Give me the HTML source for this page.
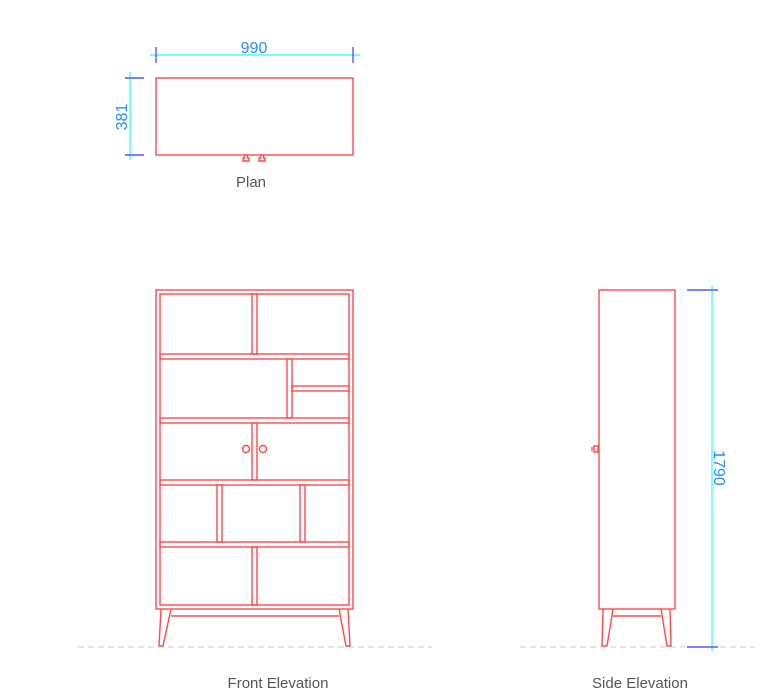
<!DOCTYPE html>
<html><head><style>body{margin:0;background:#fff}svg{display:block}</style></head><body>
<svg width="763" height="699" viewBox="0 0 763 699" xmlns="http://www.w3.org/2000/svg" font-family="Liberation Sans, sans-serif">
<g fill="none" stroke="#ff4a4a" stroke-width="1.4">
<rect x="156" y="78" width="197" height="77"/>
<path d="M243 161h6v-3h-1.5v-3h-3v3h-1.5z M259 161h6v-3h-1.5v-3h-3v3h-1.5z"/>
<rect x="156" y="290" width="197" height="319"/>
<rect x="160" y="294" width="189" height="311"/>
<rect x="160" y="354" width="189" height="5"/>
<rect x="160" y="418" width="189" height="5"/>
<rect x="160" y="480" width="189" height="5"/>
<rect x="160" y="542" width="189" height="5"/>
<rect x="252" y="294" width="5" height="60"/>
<rect x="287" y="359" width="5" height="59"/>
<rect x="292" y="386" width="57" height="5"/>
<rect x="252" y="423" width="5" height="57"/>
<rect x="217" y="485" width="5" height="57"/>
<rect x="300" y="485" width="5" height="57"/>
<rect x="252" y="547" width="5" height="58"/>
<circle cx="246" cy="449" r="3.5"/><circle cx="263" cy="449" r="3.5"/>
<path d="M161 609L159 646H163L171 609 M339 609L346 646H350L348 609 M171 616H339"/>
<rect x="599" y="290" width="76" height="319"/>
<path d="M598 446h-4v6h4z M592 447v4"/>
<path d="M603 609L602 646H607L613 609 M661 609L667 646H671L670 609 M613 616H661"/>
</g>
<g stroke="#ccc" stroke-dasharray="6,4" stroke-width="1">
<path d="M78 647H432 M520 647H755"/>
</g>
<g stroke="#4ff" stroke-width="1.4">
<path d="M150 55H360 M130 72V160 M712 286V651"/>
</g>
<g stroke="#55f" stroke-width="1.4">
<path d="M156 47V63 M353 47V63 M125 78H144 M125 155H144 M687 290H718 M687 647H718"/>
</g>
<g fill="#2a8cff" font-size="16">
<text x="254" y="53" text-anchor="middle">990</text>
<text transform="translate(127,117) rotate(-90)" text-anchor="middle">381</text>
<text transform="translate(714,468) rotate(90)" text-anchor="middle">1790</text>
</g>
<g fill="#555" font-size="15" text-anchor="middle">
<text x="251" y="187">Plan</text>
<text x="278" y="688">Front Elevation</text>
<text x="640" y="688">Side Elevation</text>
</g>
</svg>
</body></html>
